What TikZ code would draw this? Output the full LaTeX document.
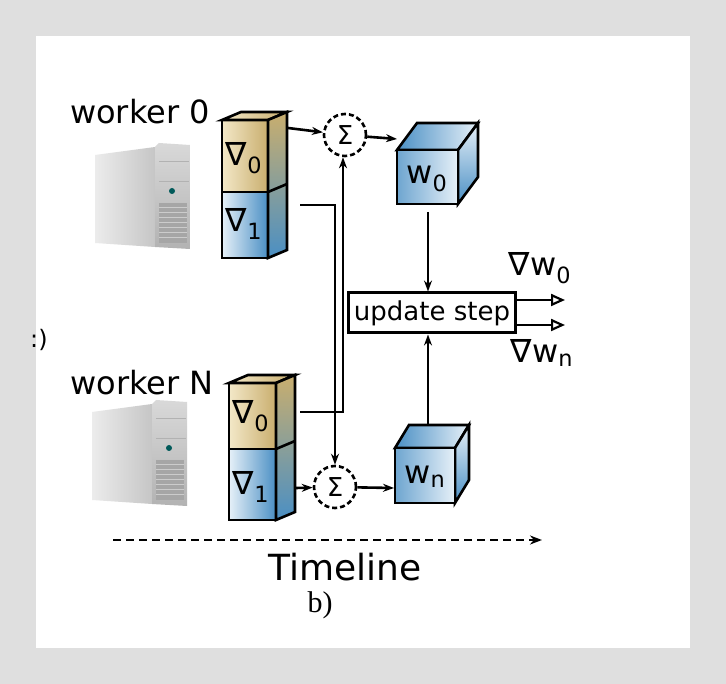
\documentclass[tikz,border=0pt]{standalone}
\usepackage{fontspec}
\setmainfont{DejaVu Sans}
\newfontfamily\serifb{Liberation Serif}
\usetikzlibrary{arrows.meta}
\definecolor{beigeL}{HTML}{F3E8C8}\definecolor{beigeD}{HTML}{C9AE6E}
\definecolor{blueL}{HTML}{E6F0F8}\definecolor{blueD}{HTML}{4A8FC4}
\begin{document}
\begin{tikzpicture}[x=1pt,y=-1pt,
  ar/.style={line width=2.6pt,-{Stealth[length=11pt,width=8pt]}},
  sig/.style={circle,draw,dash pattern=on 5pt off 3pt,line width=2.6pt,minimum size=42pt,inner sep=0pt,font=\fontsize{26}{26}\selectfont},
  lbl/.style={font=\fontsize{32}{32}\selectfont},
  face/.style={draw,line width=2.6pt}]
\useasboundingbox (0,0) rectangle (726,684);
\fill[gray!25] (0,0) rectangle (726,684);
\fill[white] (36,36) rectangle (690,648);
% servers
\foreach \sx/\sy/\nm in {95/143/s0,92/400/sN}{
  \begin{scope}[shift={(\sx,\sy)}]
   \shade[left color=gray!15,right color=gray!45] (0,12) -- (60,4) -- (60,104) -- (0,100) -- cycle;
   \shade[top color=gray!30,bottom color=gray!60] (60,4) -- (64,0) -- (95,2) -- (95,106) -- (60,104) -- cycle;
   \fill[gray!70] (64,60) rectangle (92,100);
   \foreach \k in {0,...,6}{\draw[gray!40,line width=0.4pt] (64,64+5*\k) -- (92,64+5*\k);}
   \fill[teal!70!black] (77,48) circle (3);
   \draw[gray!60,line width=0.6pt] (64,18) -- (94,18) (64,38) -- (94,38);
  \end{scope}}
\node[lbl] (w0) at (140,112) {worker 0};
\node[lbl] (wN) at (142,383) {worker N};
% gradient stacks
\newcommand{\stackbox}[5]{% x1 y1 x2 ymid y2
  \shade[face,left color=beigeL,right color=beigeD] (#1,#2) rectangle (#3,#4);
  \shade[face,left color=blueL,right color=blueD] (#1,#4) rectangle (#3,#5);
  \shade[face,left color=beigeL,right color=beigeD] (#1,#2) -- ++(19,-8) -- ++(#3-#1,0) -- (#3,#2) -- cycle;
  \shade[face,top color=beigeD,bottom color=blueD] (#3,#2) -- ++(19,-8) -- ++(0,#5-#2) -- (#3,#5) -- cycle;
  \draw[line width=2.6pt] (#3,#4) -- ++(19,-8);}
\stackbox{222}{120}{268}{192}{258}
\stackbox{229}{383}{276}{449}{520}
\node[lbl] (g00) at (244,158) {∇\textsubscript{0}};
\node[lbl] (g01) at (244,224) {∇\textsubscript{1}};
\node[lbl] (gN0) at (251,416) {∇\textsubscript{0}};
\node[lbl] (gN1) at (251,487) {∇\textsubscript{1}};
% cubes
\newcommand{\cube}[6]{% x1 y1 x2 y2 dx dy
  \shade[face,left color=blueD,right color=blueL] (#1,#2) -- ++(#5,#6) -- ++(#3-#1,0) -- (#3,#2) -- cycle;
  \shade[face,top color=blueL,bottom color=blueD] (#3,#2) -- ++(#5,#6) -- ++(0,#4-#2) -- (#3,#4) -- cycle;
  \shade[face,left color=blueD!80,right color=blueL] (#1,#2) rectangle (#3,#4);}
\cube{397}{150}{458}{204}{20}{-27}
\cube{395}{448}{455}{503}{14}{-23}
\node[lbl] (W0) at (427,179) {w\textsubscript{0}};
\node[lbl] (Wn) at (425,477) {w\textsubscript{n}};
\coordinate (W0l) at (397,139); \coordinate (W0b) at (428,212);
\coordinate (Wnl) at (394,488); \coordinate (Wnt) at (428,425);
% sigmas
\node[sig] (S0) at (345,135) {Σ};
\node[sig] (SN) at (335,487) {Σ};
% update
\node[draw,line width=3pt,minimum width=167pt,minimum height=40pt,inner sep=0pt,font=\fontsize{26}{26}\selectfont] (U) at (432,313) {update step};
% connectors
\coordinate (a0) at (288,128); \coordinate (b0) at (300,205);
\coordinate (aN) at (300,412); \coordinate (bN) at (296,488);
\draw[ar] (a0) -- (S0);
\draw[ar] (S0) -- (W0l);
\draw[ar] (b0) -- (335,205) -- (SN);
\draw[ar] (aN) -- (343,412) -- (S0.south-|343,0);
\draw[ar] (bN) -- (SN);
\draw[ar] (SN) -- (Wnl);
\draw[ar] (W0b) -- (U.north-|W0b);
\draw[ar] (Wnt) -- (U.south-|Wnt);
\coordinate (o1) at (565,300); \coordinate (o2) at (565,325);
\draw[line width=2.2pt,-{Triangle[open,length=14pt,width=12pt]}] (U.east|-o1) -- (o1);
\draw[line width=2.2pt,-{Triangle[open,length=14pt,width=12pt]}] (U.east|-o2) -- (o2);
\node[lbl] (dw0) at (540,268) {∇w\textsubscript{0}};
\node[lbl] (dwn) at (542,353) {∇w\textsubscript{n}};
% timeline
\coordinate (t1) at (113,540); \coordinate (t2) at (542,540);
\draw[line width=2.4pt,dash pattern=on 8pt off 5pt,-{Stealth[length=12pt,width=9pt]}] (t1) -- (t2);
\node[font=\fontsize{36}{36}\selectfont] (TL) at (345,567) {Timeline};
\node[font=\serifb\fontsize{30}{30}\selectfont] (b) at (320,605) {b)};
\node[font=\fontsize{24}{24}\selectfont,anchor=west,inner sep=0pt] (c) at (30,340) {:)};
\end{tikzpicture}
\end{document}
